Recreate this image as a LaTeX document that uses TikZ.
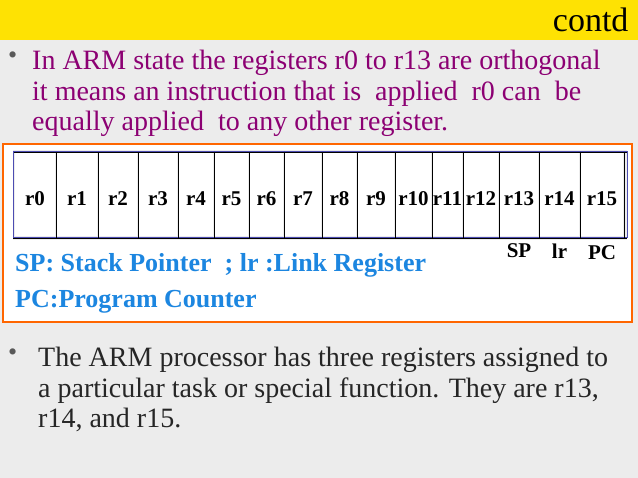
\documentclass[tikz,border=0pt]{standalone}
\usepackage{fontspec}
\setmainfont{Liberation Serif}
\definecolor{lblue}{HTML}{1C86E0}
\begin{document}
\begin{tikzpicture}[x=1pt,y=-1pt,
  reg/.style={font=\bfseries\fontsize{21}{21}\selectfont, inner sep=0pt},
  blue/.style={font=\bfseries\fontsize{26}{26}\selectfont, text=lblue, anchor=west, inner sep=0pt},
  btxt/.style={font=\fontsize{28}{30.5}\selectfont, anchor=north west, align=left, inner sep=0pt}]
\useasboundingbox (0,0) rectangle (638,478);
\fill[gray!15] (0,0) rectangle (638,478);
\fill[yellow!85!orange] (0,0) rectangle (638,40);
\node[anchor=east, font=\fontsize{34}{34}\selectfont] (contd) at (632,20) {contd};
\node[anchor=north west, font=\fontsize{26}{26}\selectfont, text=gray!70!black, inner sep=0pt] (b1) at (8,52) {•};
\node[btxt, text=violet!80!purple] (t1) at (32,50) {In ARM state the registers r0 to r13 are orthogonal\\it means an instruction that is \ applied \ r0 can \ be\\equally applied \ to any other register.};
\fill[white, draw=orange!80!red, line width=1.2pt] (3,144) rectangle (632,322);
\fill[gray!15] (13,150) rectangle (627,240);
\draw[black, line width=1.5pt] (13,152) -- (627,152);
\draw[black, line width=1.5pt] (13,238) -- (627,238);
\draw[gray!60!blue, line width=1pt] (13,152) rectangle (627,238);
\foreach \a/\b/\n in {14/56/0,56/98/1,98/138/2,138/178/3,178/214/4,214/249/5,249/284/6,284/322/7,322/357/8,357/395/9,395/432/10,432/463/11,463/499/12,499/539/13,539/580/14,580/624/15}{
  \fill[white] (\a+1,153.5) rectangle (\b-1,236.5);
  \draw[black, line width=1pt] (\b,152) -- (\b,238);
  \node[reg] (r\n) at ({(\a+\b)/2},199) {r\n};
}
\node[reg] (sp) at (r13|-0,251) {SP};
\node[reg] (lr) at (r14|-0,251) {lr};
\node[reg] (pc) at (r15|-0,253) {PC};
\node[blue] (l1) at (15,265) {SP: Stack Pointer \ ; lr :Link Register};
\node[blue] (l2) at (15,302) {PC:Program Counter};
\node[anchor=north west, font=\fontsize{26}{26}\selectfont, text=gray!70!black, inner sep=0pt] (b2) at (8,349) {•};
\node[btxt, text=black!85] (t2) at (38,347) {The ARM processor has three registers assigned to\\a particular task or special function. They are r13,\\r14, and r15.};
\end{tikzpicture}
\end{document}
